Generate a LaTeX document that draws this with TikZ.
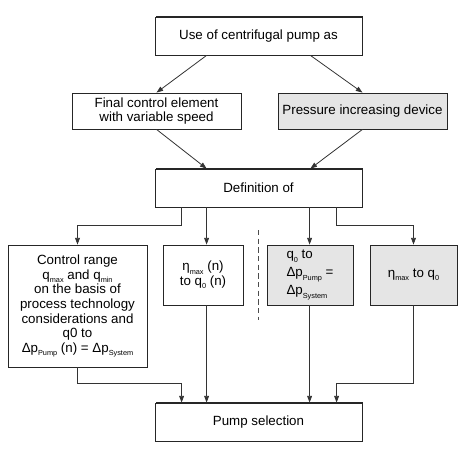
\documentclass[tikz,border=0pt]{standalone}
\usepackage{fontspec}
\setmainfont{Liberation Sans}
\usetikzlibrary{arrows.meta, shadows}

\newcommand{\indice}[1]{\raisebox{-0.45ex}{\fontsize{5.5}{6}\selectfont #1}}

\begin{document}
\begin{tikzpicture}[x=0.75pt, y=-0.75pt,
    caixa/.style={draw=black!85, fill=white, line width=0.6pt, align=center,
      font=\fontsize{10}{11}\selectfont, inner sep=1pt},
    destaque/.style={caixa, general shadow={fill=black!85, shadow xshift=1.1pt, shadow yshift=1.1pt}},
    cinza/.style={caixa, fill=black!10},
    seta/.style={draw=black!80, line width=0.6pt, -{Triangle[length=5pt,width=3.6pt]}},
    tracejado/.style={draw=black!70, line width=0.6pt, dash pattern=on 4pt off 2.5pt}]
    \useasboundingbox (0,0) rectangle (469,454);

    % Primeiro nivel
    \node[destaque, minimum width=155.25pt, minimum height=28.5pt] (uso) at (258.5,36)
      {Use of centrifugal pump as};

    \node[caixa, minimum width=126.75pt, minimum height=27pt] (atuador) at (156.5,111)
      {Final control element\\ with variable speed};
    \node[cinza, minimum width=126.75pt, minimum height=27pt] (pressao) at (362.5,111)
      {Pressure increasing device};

    \draw[seta] ([xshift=39pt]uso.south west) -- (atuador.north);
    \draw[seta] ([xshift=-39pt]uso.south east) -- (pressao.north);

    % Definicao
    \node[destaque, minimum width=155.25pt, minimum height=28.5pt] (definicao) at (258.5,188)
      {Definition of};

    \draw[seta] (atuador.south) -- ([xshift=39pt]definicao.north west);
    \draw[seta] (pressao.south) -- ([xshift=-39pt]definicao.north east);

    % Criterios
    \node[caixa, minimum width=104.25pt, minimum height=91.5pt] (faixa) at (77.5,306)
      {Control range\\ q\indice{max} and q\indice{min}\\ on the basis of\\ process technology\\
       considerations and\\ q0 to\\ Δp\indice{Pump} (n) = Δp\indice{System}};
    \node[caixa, minimum width=60pt, minimum height=45pt] (eta) at (203,275)
      {η\indice{max} (n)\\ to q\indice{0} (n)};
    \node[cinza, align=left, minimum width=64.5pt, minimum height=45pt] (qzero) at (310,275)
      {q\indice{0} to\\[2.5pt] Δp\indice{Pump} =\\[2.5pt] Δp\indice{System}};
    \node[cinza, minimum width=65.25pt, minimum height=45pt] (etamax) at (413.5,275)
      {η\indice{max} to q\indice{0}};

    \draw[tracejado] (258,230) -- (258,320);

    \coordinate (s1) at ([xshift=20.25pt]definicao.south west);
    \coordinate (s2) at ([xshift=39pt]definicao.south west);
    \coordinate (s3) at ([xshift=116.25pt]definicao.south west);
    \coordinate (s4) at ([xshift=136.5pt]definicao.south west);

    \draw[seta] (s1) -- ++(0,18) -| (faixa.north);
    \draw[seta] (s2) -- (s2 |- eta.north);
    \draw[seta] (s3) -- (s3 |- qzero.north);
    \draw[seta] (s4) -- ++(0,18) -| (etamax.north);

    % Selecao
    \node[destaque, minimum width=155.25pt, minimum height=28.5pt] (selecao) at (258.5,422)
      {Pump selection};

    \coordinate (e1) at ([xshift=20.25pt]selecao.north west);
    \coordinate (e2) at ([xshift=39pt]selecao.north west);
    \coordinate (e3) at ([xshift=116.25pt]selecao.north west);
    \coordinate (e4) at ([xshift=136.5pt]selecao.north west);

    \draw[seta] (faixa.south) -- ++(0,16) -| (e1);
    \draw[seta] (e2 |- eta.south) -- (e2);
    \draw[seta] (e3 |- qzero.south) -- (e3);
    \draw[seta] (etamax.south) -- ++(0,78) -| (e4);
\end{tikzpicture}
\end{document}
